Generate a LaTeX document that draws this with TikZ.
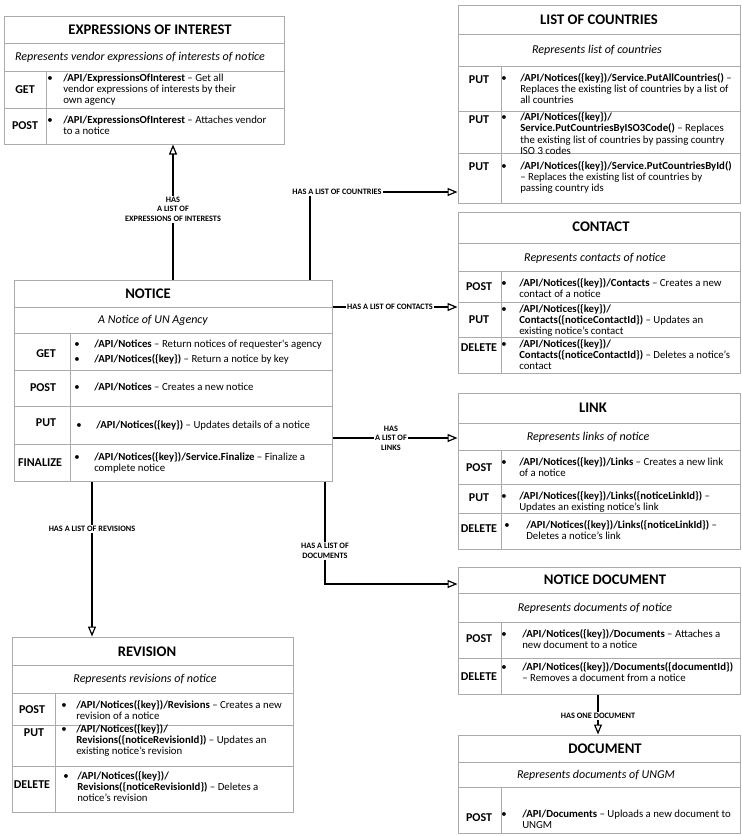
\documentclass[tikz,border=0pt]{standalone}
\usepackage{fontspec}
\setmainfont{Carlito}
\usetikzlibrary{arrows.meta,fit}
\newdimen\pxu \pxu=0.75pt
\newcommand\bitem[2]{\makebox[#1\pxu][l]{\textbullet}\begin{tabular}[t]{@{}l@{}}#2\end{tabular}}
\definecolor{boxgray}{HTML}{ABABAB}
\tikzset{
  frame/.style={draw=boxgray, line width=0.75pt, inner sep=0pt},
  rowln/.style={draw=boxgray, line width=0.75pt},
  ttl/.style={font=\fontsize{11}{13}\selectfont\bfseries, inner sep=0pt},
  subt/.style={font=\fontsize{9}{11}\selectfont\itshape, inner sep=0pt},
  meth/.style={font=\fontsize{9}{10}\selectfont\bfseries, inner sep=0pt},
  cell/.style={font=\fontsize{8.1}{8.4}\selectfont, anchor=west, inner sep=0pt},
  conn/.style={line width=1pt, -{Triangle[open,length=7.5pt,width=6pt,line width=0.9pt]}},
  lbl/.style={font=\fontsize{6.2}{7.2}\selectfont\bfseries, fill=white, inner sep=0.8pt, align=center},
}
\begin{document}
\begin{tikzpicture}[x=0.75pt,y=-0.75pt]
\useasboundingbox[fill=white] (0,0) rectangle (742,836);

% ---------- EXPRESSIONS OF INTEREST ----------
\node[frame, fit={(4,16)(284,144)}] (eoi) {};
\draw[rowln] (4,43) -- (284,43) (4,71) -- (284,71) (4,108) -- (284,108) (46,71) -- (46,144);
\node[ttl] (eoi-t) at (150,30) {EXPRESSIONS OF INTEREST};
\node[subt] (eoi-s) at (140,57) {Represents vendor expressions of interests of notice};
\node[meth] (eoi-m1) at (25,90) {GET};
\node[cell] (eoi-c1) at (47,90) {\bitem{16}{\textbf{/API/ExpressionsOfInterest} – Get all\\vendor expressions of interests by their\\own agency}};
\node[meth] (eoi-m2) at (25,126) {POST};
\node[cell] (eoi-c2) at (47,127) {\bitem{16}{\textbf{/API/ExpressionsOfInterest} – Attaches vendor\\to a notice}};

% ---------- LIST OF COUNTRIES ----------
\node[frame, fit={(458,5)(740,203)}] (countries) {};
\draw[rowln] (458,34) -- (740,34) (458,66) -- (740,66) (458,111) -- (740,111) (458,153) -- (740,153) (501,66) -- (501,203);
\node[ttl] (co-t) at (599,20) {LIST OF COUNTRIES};
\node[subt] (co-s) at (597,50) {Represents list of countries};
\node[meth] (co-m1) at (479,80) {PUT};
\node[cell] (co-c1) at (501,90) {\bitem{19}{\textbf{/API/Notices(\{key\})/Service.PutAllCountries()} –\\Replaces the existing list of countries by a list of\\all countries}};
\node[meth] (co-m2) at (479,120) {PUT};
\node[cell] (co-c2) at (501,135) {\bitem{19}{\textbf{/API/Notices(\{key\})/}\\\textbf{Service.PutCountriesByISO3Code()} – Replaces\\the existing list of countries by passing country\\ISO 3 codes}};
\node[meth] (co-m3) at (479,167) {PUT};
\node[cell] (co-c3) at (501,178) {\bitem{19}{\textbf{/API/Notices(\{key\})/Service.PutCountriesById()}\\– Replaces the existing list of countries by\\passing country ids}};

% ---------- CONTACT ----------
\node[frame, fit={(458,212)(740,373)}] (contact) {};
\draw[rowln] (458,243) -- (740,243) (458,271) -- (740,271) (458,302) -- (740,302) (458,337) -- (740,337) (501,271) -- (501,373);
\node[ttl] (ct-t) at (601,227) {CONTACT};
\node[subt] (ct-s) at (595,258) {Represents contacts of notice};
\node[meth] (ct-m1) at (479,287) {POST};
\node[cell] (ct-c1) at (501,290) {\bitem{18}{\textbf{/API/Notices(\{key\})/Contacts} – Creates a new\\contact of a notice}};
\node[meth] (ct-m2) at (479,320) {PUT};
\node[cell] (ct-c2) at (501,321) {\bitem{18}{\textbf{/API/Notices(\{key\})/}\\\textbf{Contacts(\{noticeContactId\})} – Updates an\\existing notice’s contact}};
\node[meth] (ct-m3) at (479,348) {DELETE};
\node[cell] (ct-c3) at (501,356) {\bitem{18}{\textbf{/API/Notices(\{key\})/}\\\textbf{Contacts(\{noticeContactId\})} – Deletes a notice’s\\contact}};

% ---------- LINK ----------
\node[frame, fit={(458,393)(740,549)}] (link) {};
\draw[rowln] (458,423) -- (740,423) (458,450) -- (740,450) (458,484) -- (740,484) (458,513) -- (740,513) (501,450) -- (501,549);
\node[ttl] (lk-t) at (593,408) {LINK};
\node[subt] (lk-s) at (588,437) {Represents links of notice};
\node[meth] (lk-m1) at (479,468) {POST};
\node[cell] (lk-c1) at (501,469) {\bitem{18}{\textbf{/API/Notices(\{key\})/Links} – Creates a new link\\of a notice}};
\node[meth] (lk-m2) at (479,498) {PUT};
\node[cell] (lk-c2) at (501,503) {\bitem{18}{\textbf{/API/Notices(\{key\})/Links(\{noticeLinkId\})} –\\Updates an existing notice’s link}};
\node[meth] (lk-m3) at (479,529) {DELETE};
\node[cell] (lk-c3) at (504,532) {\bitem{22}{\textbf{/API/Notices(\{key\})/Links(\{noticeLinkId\})} –\\Deletes a notice’s link}};

% ---------- NOTICE DOCUMENT ----------
\node[frame, fit={(458,567)(740,694)}] (ndoc) {};
\draw[rowln] (458,593) -- (740,593) (458,622) -- (740,622) (458,658) -- (740,658) (501,622) -- (501,694);
\node[ttl] (nd-t) at (605,580) {NOTICE DOCUMENT};
\node[subt] (nd-s) at (595,608) {Represents documents of notice};
\node[meth] (nd-m1) at (479,639) {POST};
\node[cell] (nd-c1) at (501,641) {\bitem{21}{\textbf{/API/Notices(\{key\})/Documents} – Attaches a\\new document to a notice}};
\node[meth] (nd-m2) at (479,677) {DELETE};
\node[cell] (nd-c2) at (501,674) {\bitem{21}{\textbf{/API/Notices(\{key\})/Documents(\{documentId\})}\\– Removes a document from a notice}};

% ---------- DOCUMENT ----------
\node[frame, fit={(458,735)(740,833)}] (document) {};
\draw[rowln] (458,762) -- (740,762) (458,787) -- (740,787) (501,787) -- (501,833);
\node[ttl] (dc-t) at (605,749) {DOCUMENT};
\node[subt] (dc-s) at (596,775) {Represents documents of UNGM};
\node[meth] (dc-m1) at (479,818) {POST};
\node[cell] (dc-c1) at (501,821) {\bitem{21}{\textbf{/API/Documents} – Uploads a new document to\\UNGM}};

% ---------- NOTICE ----------
\node[frame, fit={(14,280)(332,481)}] (notice) {};
\draw[rowln] (14,307) -- (332,307) (14,333) -- (332,333) (14,370) -- (332,370) (14,406) -- (332,406) (14,444) -- (332,444) (70,333) -- (70,481);
\node[ttl] (nt-t) at (148,294) {NOTICE};
\node[subt] (nt-s) at (153,320) {A Notice of UN Agency};
\node[meth] (nt-m1) at (46,354) {GET};
\node[cell] (nt-c1) at (74,352.5) {\begin{tabular}{@{}l@{}}\bitem{20}{\textbf{/API/Notices} – Return notices of requester\textquotesingle s agency}\\[3pt]\bitem{20}{\textbf{/API/Notices(\{key\})} – Return a notice by key}\end{tabular}};
\node[meth] (nt-m2) at (43,388) {POST};
\node[cell] (nt-c2) at (74,388) {\bitem{20}{\textbf{/API/Notices} – Creates a new notice}};
\node[meth] (nt-m3) at (46,423) {PUT};
\node[cell] (nt-c3) at (76,426) {\bitem{20}{\textbf{/API/Notices(\{key\})} – Updates details of a notice}};
\node[meth] (nt-m4) at (40,463) {FINALIZE};
\node[cell] (nt-c4) at (74,463.5) {\bitem{20}{\textbf{/API/Notices(\{key\})/Service.Finalize} – Finalize a\\complete notice}};

% ---------- REVISION ----------
\node[frame, fit={(12,637)(293,812)}] (revision) {};
\draw[rowln] (12,665) -- (293,665) (12,693) -- (293,693) (12,725) -- (293,725) (12,766) -- (293,766) (55,693) -- (55,812);
\node[ttl] (rv-t) at (147,652) {REVISION};
\node[subt] (rv-s) at (145,679) {Represents revisions of notice};
\node[meth] (rv-m1) at (32,710) {POST};
\node[cell] (rv-c1) at (61,712) {\bitem{15}{\textbf{/API/Notices(\{key\})/Revisions} – Creates a new\\revision of a notice}};
\node[meth] (rv-m2) at (34,733) {PUT};
\node[cell] (rv-c2) at (61,741) {\bitem{15}{\textbf{/API/Notices(\{key\})/}\\\textbf{Revisions(\{noticeRevisionId\})} – Updates an\\existing notice’s revision}};
\node[meth] (rv-m3) at (32,785) {DELETE};
\node[cell] (rv-c3) at (63,788) {\bitem{14}{\textbf{/API/Notices(\{key\})/}\\\textbf{Revisions(\{noticeRevisionId\})} – Deletes a\\notice’s revision}};

% ---------- connectors ----------
\coordinate (xa) at (173,0);
\coordinate (xb) at (310,192);
\coordinate (yc) at (0,307);
\coordinate (yl) at (0,438);
\coordinate (xr) at (92,0);
\coordinate (xd) at (325,584);
\coordinate (xe) at (598,0);

\draw[conn] (notice.north -| xa) -- (eoi.south -| xa)
  node[lbl, pos=0.52] (l-eoi) {HAS\\A LIST OF\\EXPRESSIONS OF INTERESTS};
\draw[conn] (notice.north -| xb) |- (countries.west |- xb);
\node[lbl] (l-co) at (337,192) {HAS A LIST OF COUNTRIES};
\draw[conn] (notice.east |- yc) -- (contact.west |- yc);
\node[lbl] (l-ct) at (390,307) {HAS A LIST OF CONTACTS};
\draw[conn] (notice.east |- yl) -- (link.west |- yl);
\node[lbl] (l-lk) at (391,438) {HAS\\A LIST OF\\LINKS};
\draw[conn] (notice.south -| xr) -- (revision.north -| xr);
\node[lbl] (l-rv) at (92,529) {HAS A LIST OF REVISIONS};
\draw[conn] (notice.south -| xd) |- (ndoc.west |- xd);
\node[lbl] (l-nd) at (325,551) {HAS A LIST OF\\DOCUMENTS};
\draw[conn] (ndoc.south -| xe) -- (document.north -| xe);
\node[lbl] (l-dc) at (598,716) {HAS ONE DOCUMENT};
\end{tikzpicture}
\end{document}
